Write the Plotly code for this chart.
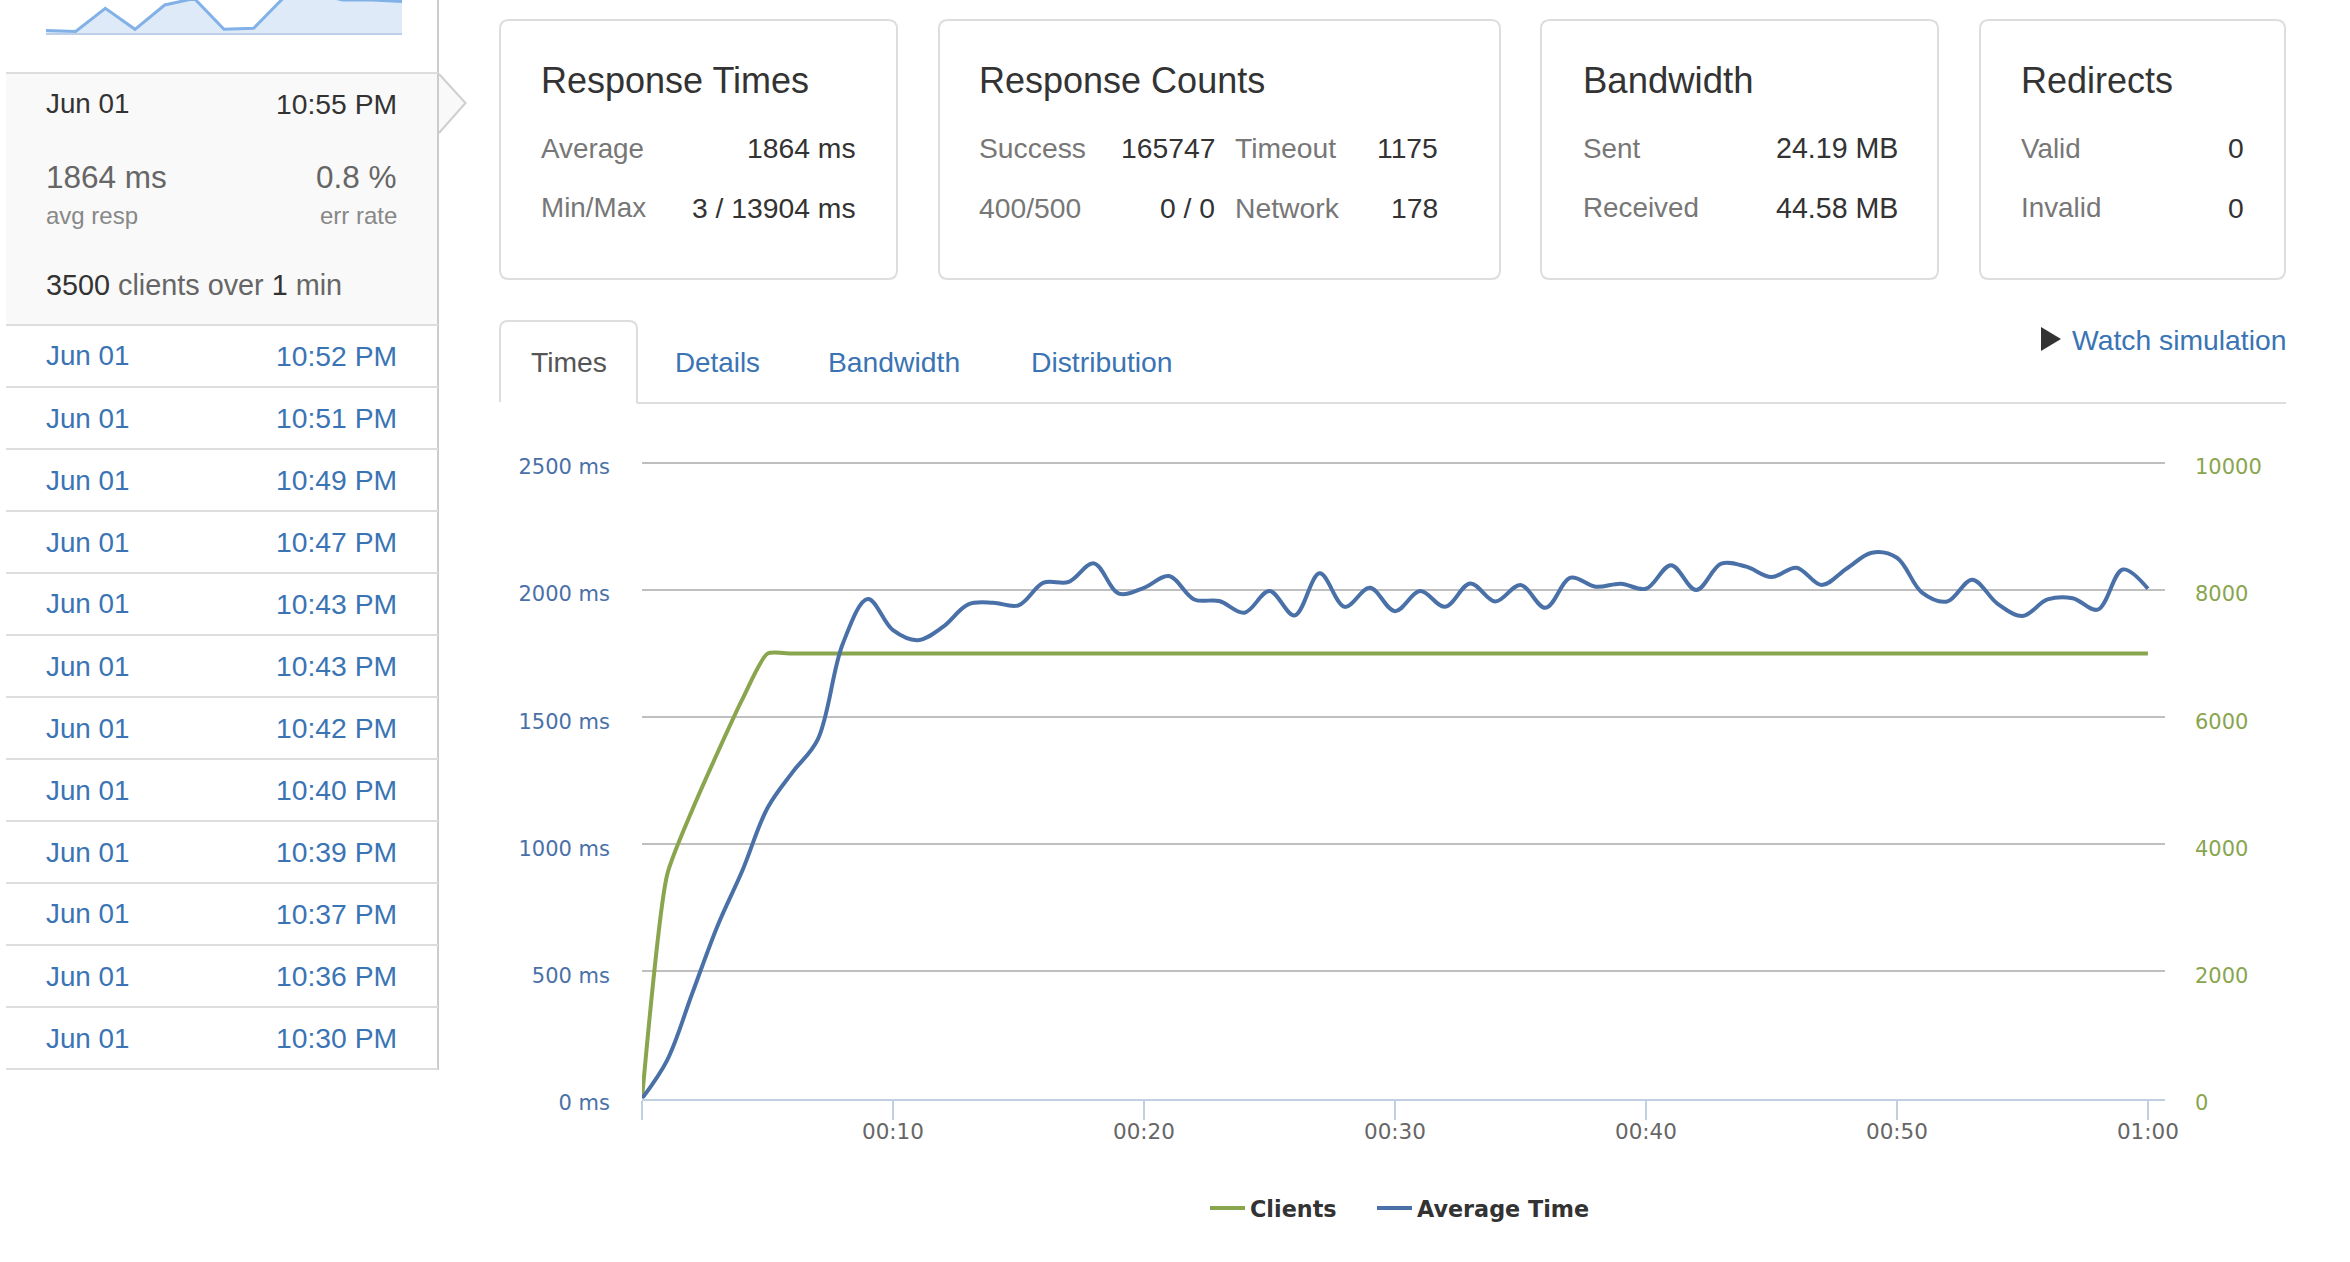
import plotly.graph_objects as go

W = 2350
H = 1262

# data
seconds = [0, 1, 2, 3, 4, 5, 6, 7, 8, 9, 10, 11, 12, 13, 14, 15, 16, 17, 18, 19,
           20, 21, 22, 23, 24, 25, 26, 27, 28, 29, 30, 31, 32, 33, 34, 35, 36, 37, 38, 39,
           40, 41, 42, 43, 44, 45, 46, 47, 48, 49, 50, 51, 52, 53, 54, 55, 56, 57, 58, 59, 60]
clients = [0, 3518, 4538, 5432, 6283, 7000, 7000, 7000, 7000, 7000, 7000, 7000, 7000, 7000, 7000,
           7000, 7000, 7000, 7000, 7000, 7000, 7000, 7000, 7000, 7000, 7000, 7000, 7000, 7000, 7000,
           7000, 7000, 7000, 7000, 7000, 7000, 7000, 7000, 7000, 7000, 7000, 7000, 7000, 7000, 7000,
           7000, 7000, 7000, 7000, 7000, 7000, 7000, 7000, 7000, 7000, 7000, 7000, 7000, 7000, 7000, 7000]
avg_time = [0, 150, 413, 677, 897, 1143, 1284, 1412, 1789, 1965, 1842, 1803, 1856, 1944, 1950,
            1940, 2029, 2032, 2105, 1986, 2009, 2055, 1963, 1957, 1911, 1996, 1900, 2066, 1934, 2009,
            1917, 1996, 1934, 2026, 1955, 2020, 1930, 2049, 2013, 2025, 2005, 2098, 2000, 2104, 2092,
            2051, 2088, 2020, 2085, 2147, 2127, 1990, 1955, 2041, 1947, 1898, 1963, 1968, 1923, 2081, 2005]

x_ticks = [0, 10, 20, 30, 40, 50, 60]
x_labels = ["", "00:10", "00:20", "00:30", "00:40", "00:50", "01:00"]

# little history chart cut off by the top of the page
history_index = [0, 1, 2, 3, 4, 5, 6, 7, 8, 9, 10, 11, 12]
history_values = [2.5, 1.5, 24.7, 3.7, 28, 34.5, 3.7, 4.7, 35, 40, 33, 33, 31.5]

run_dates = ["Jun 01"] * 12
run_times = ["10:52 PM", "10:51 PM", "10:49 PM", "10:47 PM", "10:43 PM", "10:43 PM",
             "10:42 PM", "10:40 PM", "10:39 PM", "10:37 PM", "10:36 PM", "10:30 PM"]

BLUE = "#3a74b4"
DARK = "#333333"
GRAY = "#777777"
BORDER = "#dddddd"
SANS = "Liberation Sans"
CHART = "DejaVu Sans"


def fx(x):
    return x / W


def fy(y):
    return 1 - y / H


shapes = []
annotations = []


def label(x, y, text, size=28.3, color=GRAY, anchor="left"):
    annotations.append(dict(
        xref="paper", yref="paper", x=fx(x), y=fy(y), text=text, showarrow=False,
        xanchor=anchor, yanchor="middle", borderpad=0, borderwidth=0,
        font=dict(family=SANS, size=size, color=color),
    ))


def hline(x0, x1, y, color=BORDER, width=2):
    shapes.append(dict(type="line", xref="paper", yref="paper", x0=fx(x0), x1=fx(x1),
                       y0=fy(y), y1=fy(y), line=dict(color=color, width=width)))


def path(points, fill=None, color=BORDER, width=2):
    shapes.append(dict(type="path", xref="paper", yref="paper", path=points,
                       fillcolor=fill, line=dict(color=color, width=width), layer="below"))


def box(x0, y0, x1, y1, r=9):
    p = (f"M {fx(x0 + r)} {fy(y0)} L {fx(x1 - r)} {fy(y0)} Q {fx(x1)} {fy(y0)} {fx(x1)} {fy(y0 + r)} "
         f"L {fx(x1)} {fy(y1 - r)} Q {fx(x1)} {fy(y1)} {fx(x1 - r)} {fy(y1)} "
         f"L {fx(x0 + r)} {fy(y1)} Q {fx(x0)} {fy(y1)} {fx(x0)} {fy(y1 - r)} "
         f"L {fx(x0)} {fy(y0 + r)} Q {fx(x0)} {fy(y0)} {fx(x0 + r)} {fy(y0)} Z")
    path(p)


# sidebar
shapes.append(dict(type="rect", xref="paper", yref="paper", x0=fx(6), x1=fx(437), y0=fy(73), y1=fy(325),
                   fillcolor="#f9f9f9", line=dict(width=0), layer="below"))
path(f"M {fx(439)} {fy(74)} L {fx(465.5)} {fy(103)} L {fx(439)} {fy(133)}", fill="#f9f9f9", color="#cfcfcf")
shapes.append(dict(type="line", xref="paper", yref="paper", x0=fx(438), x1=fx(438), y0=fy(0), y1=fy(1070),
                   line=dict(color="#cccccc", width=2)))
hline(6, 438, 73)
for i in range(13):
    hline(6, 438, 325 + 62 * i)

label(46, 104, "Jun 01", size=27.8, color=DARK)
label(397, 104, "10:55 PM", color=DARK, anchor="right")
label(46, 177, "1864 ms", size=31.5, color="#666666")
label(397, 177, "0.8 %", size=31.5, color="#666666", anchor="right")
label(46, 215, "avg resp", size=24, color="#888888")
label(397, 215, "err rate", size=24, color="#888888", anchor="right")
label(46, 285, '<span style="color:#333333">3500</span> clients over '
               '<span style="color:#333333">1</span> min', size=28.8, color="#666666")
for i, (d, t) in enumerate(zip(run_dates, run_times)):
    label(46, 356 + 62 * i, d, size=27.8, color=BLUE)
    label(397, 356 + 62 * i, t, color=BLUE, anchor="right")

# stat boxes
box(500, 20, 897, 279)
box(939, 20, 1500, 279)
box(1541, 20, 1938, 279)
box(1980, 20, 2285, 279)

label(541, 81, "Response Times", size=36, color=DARK)
label(541, 148, "Average", size=27.8)
label(856, 148, "1864 ms", color=DARK, anchor="right")
label(541, 208, "Min/Max", size=27.8)
label(856, 208, "3 / 13904 ms", color=DARK, anchor="right")

label(979, 81, "Response Counts", size=36, color=DARK)
label(979, 148, "Success")
label(1215, 148, "165747", color=DARK, anchor="right")
label(1235, 148, "Timeout")
label(1438, 148, "1175", color=DARK, anchor="right")
label(979, 208, "400/500")
label(1215, 208, "0 / 0", color=DARK, anchor="right")
label(1235, 208, "Network")
label(1438, 208, "178", color=DARK, anchor="right")

label(1583, 81, "Bandwidth", size=36.5, color=DARK)
label(1583, 148, "Sent", size=27.8)
label(1898, 148, "24.19 MB", size=28.6, color=DARK, anchor="right")
label(1583, 208, "Received", size=27.8)
label(1898, 208, "44.58 MB", size=28.6, color=DARK, anchor="right")

label(2021, 81, "Redirects", size=36, color=DARK)
label(2021, 148, "Valid", size=27.8)
label(2244, 148, "0", color=DARK, anchor="right")
label(2021, 208, "Invalid", size=27.8)
label(2244, 208, "0", color=DARK, anchor="right")

# tabs
path(f"M {fx(500)} {fy(402)} L {fx(500)} {fy(329)} Q {fx(500)} {fy(321)} {fx(508)} {fy(321)} "
     f"L {fx(629)} {fy(321)} Q {fx(637)} {fy(321)} {fx(637)} {fy(329)} L {fx(637)} {fy(403)}")
hline(637, 2286, 403)
label(531, 362, "Times", color="#555555")
label(675, 362, "Details", size=27.8, color=BLUE)
label(828, 362, "Bandwidth", color=BLUE)
label(1031, 362, "Distribution", color=BLUE)
path(f"M {fx(2041)} {fy(327)} L {fx(2061)} {fy(339)} L {fx(2041)} {fy(351)} Z", fill=DARK, color=DARK, width=0)
label(2286, 340, "Watch simulation", color=BLUE, anchor="right")

fig = go.Figure()

fig.add_trace(go.Scatter(
    x=seconds, y=clients, name="Clients", mode="lines", xaxis="x", yaxis="y", legend="legend",
    line=dict(color="#89a54e", width=4, shape="spline", smoothing=0.6),
))
fig.add_trace(go.Scatter(
    x=seconds, y=avg_time, name="Average Time", mode="lines", xaxis="x", yaxis="y2", legend="legend2",
    line=dict(color="#4a70a8", width=4, shape="spline", smoothing=1.0),
))
fig.add_trace(go.Scatter(
    x=history_index, y=history_values, mode="lines", xaxis="x3", yaxis="y3", showlegend=False,
    fill="tozeroy", fillcolor="#deeaf8", line=dict(color="#82b1e8", width=3),
))

legend_font = dict(family=CHART, size=22.3, color=DARK, weight=700)

fig.update_layout(
    width=W,
    height=H,
    autosize=False,
    margin=dict(l=0, r=0, t=0, b=0, pad=0, autoexpand=False),
    paper_bgcolor="white",
    plot_bgcolor="white",
    shapes=shapes,
    annotations=annotations,
    xaxis=dict(
        domain=[fx(642), fx(2165)], range=[0, 60.68], anchor="y",
        tickmode="array", tickvals=x_ticks, ticktext=x_labels,
        showgrid=False, zeroline=False, showline=True, linecolor="#c0d0e0", linewidth=2,
        ticks="outside", ticklen=19, tickwidth=1.5, tickcolor="#c0d0e0", ticklabelstandoff=-6,
        tickfont=dict(family=CHART, size=21.5, color="#666666"),
    ),
    yaxis=dict(
        domain=[fy(1098.5), fy(456.6)], range=[0, 10100], anchor="x", side="right",
        tickmode="linear", tick0=0, dtick=2000, tickformat="d",
        showgrid=True, gridcolor="#bfbfbf", gridwidth=2, zeroline=False, showline=False,
        ticks="", ticklabelstandoff=29, ticklabelshift=4,
        tickfont=dict(family=CHART, size=21, color="#89a54e"),
    ),
    yaxis2=dict(
        domain=[fy(1098.5), fy(456.6)], range=[0, 2525], anchor="x", side="left", overlaying="y",
        tickmode="linear", tick0=0, dtick=500, tickformat="d", ticksuffix=" ms",
        showgrid=False, zeroline=False, showline=False,
        ticks="", ticklabelstandoff=31, ticklabelshift=4,
        tickfont=dict(family=CHART, size=21, color="#4a70a8"),
    ),
    xaxis3=dict(
        domain=[fx(46), fx(402)], range=[0, 12], anchor="y3",
        showgrid=False, zeroline=False, showticklabels=False, ticks="",
        showline=True, linecolor="#bccfe6", linewidth=2,
    ),
    yaxis3=dict(
        domain=[fy(33), 1], range=[0, 33], anchor="x3",
        showgrid=False, zeroline=False, showticklabels=False, ticks="", showline=False,
    ),
    showlegend=True,
    legend=dict(
        orientation="h", xanchor="left", yanchor="middle", x=fx(1205), y=fy(1208),
        font=legend_font, itemwidth=35, bgcolor="rgba(0,0,0,0)",
    ),
    legend2=dict(
        orientation="h", xanchor="left", yanchor="middle", x=fx(1372), y=fy(1208),
        font=legend_font, itemwidth=35, bgcolor="rgba(0,0,0,0)",
    ),
)

fig.write_html("out.html", config={"displayModeBar": False},
               post_script="document.body.style.margin='0';document.body.style.overflow='hidden';")
